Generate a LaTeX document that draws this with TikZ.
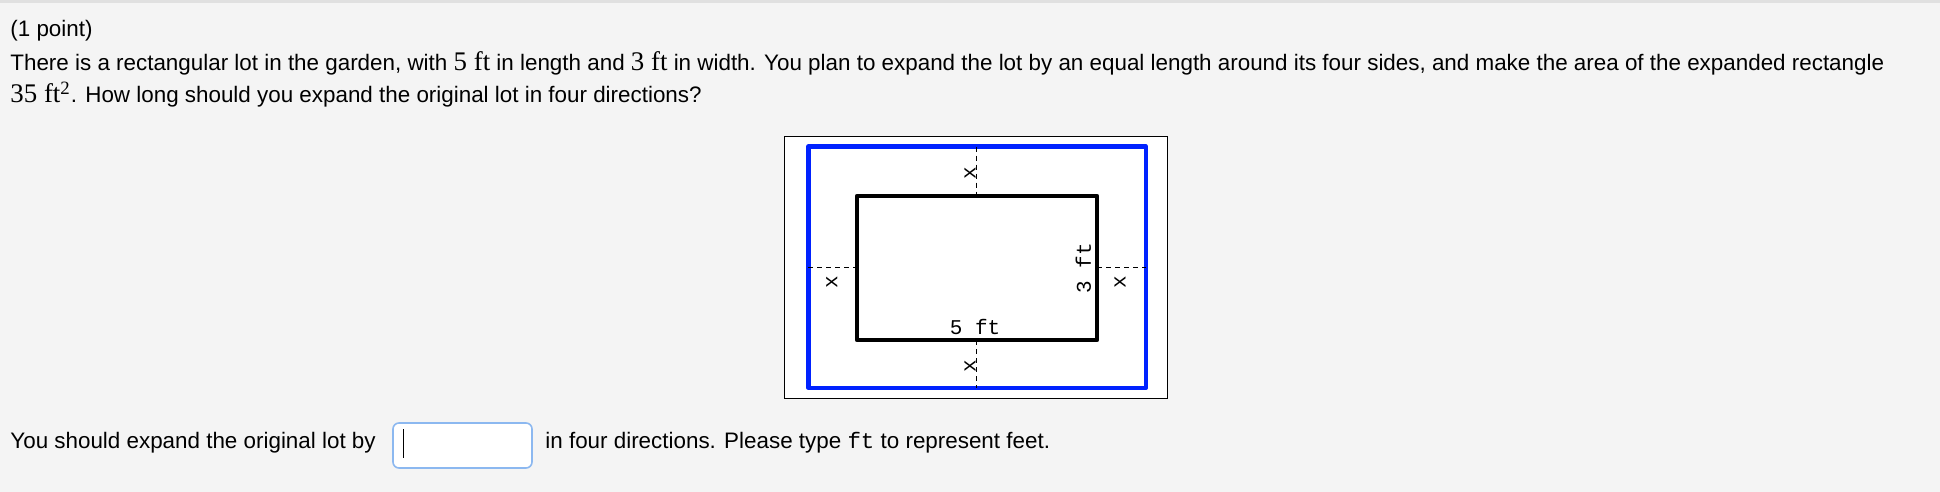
\documentclass[tikz,border=0pt]{standalone}
\usepackage{fontspec}
\setmainfont{Liberation Sans}
\newfontfamily\serifm{Liberation Serif}[Scale=1.2]
\newfontfamily\monof{Liberation Mono}
\definecolor{bg}{HTML}{F4F4F4}
\definecolor{lotblue}{HTML}{0022FF}
\definecolor{boxblue}{HTML}{8CB8F0}
\begin{document}
\begin{tikzpicture}[x=0.5pt,y=-0.5pt,
  txt/.style={anchor=west,inner sep=0pt,font=\fontsize{11.2}{13}\selectfont},
  lab/.style={inner sep=0pt,font=\monof\fontsize{10.5}{12}\selectfont},
  dim/.style={dashed,line width=0.6pt,dash pattern=on 2.5pt off 2pt}]
\fill[bg] (0,0) rectangle (1940,492);
\fill[black!12] (0,0) rectangle (1940,3);
\useasboundingbox (0,0) rectangle (1940,492);
\node[txt] (t1) at (10,31) {(1 point)};
\node[txt] (t2) at (10,63) {There is a rectangular lot in the garden, with {\serifm 5 ft} in length and {\serifm 3 ft} in width. You plan to expand the lot by an equal length around its four sides, and make the area of the expanded rectangle};
\node[txt] (t3) at (10,95) {{\serifm 35 ft\textsuperscript{2}}. How long should you expand the original lot in four directions?};
% figure
\draw[fill=white,line width=0.6pt] (784.7,136.7) rectangle (1167.3,398.7);
\draw[lotblue,line width=2.2pt,line join=round] (808.3,146.7) rectangle (1146,387.7);
\draw[dim] (976.7,146.7) -- (976.7,196);
\draw[dim] (976.7,340) -- (976.7,387.7);
\draw[dim] (808.3,267.3) -- (856.7,267.3);
\draw[dim] (1097.3,267.3) -- (1146,267.3);
\draw[line width=2pt,line join=round,fill=white] (856.7,196) rectangle (1097.3,340);
\node[lab,rotate=90] (xt) at (970,173.3) {x};
\node[lab,rotate=90] (xb) at (970,365.7) {x};
\node[lab,rotate=90] (xl) at (831.7,281.7) {x};
\node[lab,rotate=90] (xr) at (1120,281.7) {x};
\node[lab] (w) at (975,326.7) {5 ft};
\node[lab,rotate=90] (h) at (1083.3,268.3) {3 ft};
% answer line
\node[txt] (a1) at (10,443) {You should expand the original lot by};
\draw[boxblue,fill=white,line width=0.8pt,rounded corners=3pt] (393,423) rectangle (532,468);
\draw[line width=0.5pt] (403,429) -- (403,458);
\node[txt] (a2) at (545,443) {in four directions. Please type {\monof ft} to represent feet.};
\end{tikzpicture}
\end{document}
